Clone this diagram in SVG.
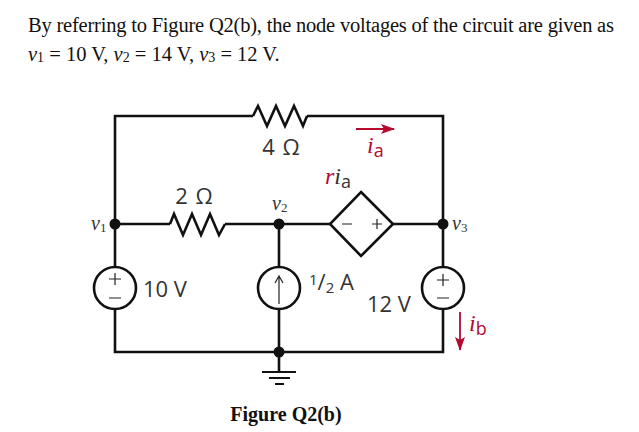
<svg xmlns="http://www.w3.org/2000/svg" width="639" height="432" viewBox="0 0 639 432">
<style>
.w{fill:none;stroke:#111;stroke-width:2.6;stroke-linejoin:miter}
.g{fill:none;stroke:#111;stroke-width:2}
.t{fill:none;stroke:#222;stroke-width:1.2}
.r{fill:none;stroke:#b5092e;stroke-width:1.8}
.q{font-family:"Liberation Serif",serif;font-size:20.500px;fill:#111}
.c{font-family:"Open Sans","DejaVu Sans",sans-serif;font-size:22px;fill:#333}
.v{font-family:"Liberation Serif",serif;font-style:italic;font-size:20px;fill:#333}
.s{font-family:"Liberation Serif",serif;font-style:normal;font-size:13px;fill:#333}
.ri{font-family:"Liberation Serif",serif;font-style:italic;font-size:24px}
.sub{font-family:"Open Sans",sans-serif;font-style:normal;font-size:18px}
</style>
<defs>
<marker id="ah" markerUnits="userSpaceOnUse" markerWidth="14" markerHeight="12" refX="13" refY="5" orient="auto"><path d="M0 0L14 5L0 10L3 5Z" fill="#b5092e"/></marker>
</defs>
<rect width="639" height="432" fill="#fff"/>
<g id="question">
<text class="q" x="28" y="32" textLength="586" lengthAdjust="spacing">By referring to Figure Q2(b), the node voltages of the circuit are given as</text>
<text class="q" x="28" y="61"><tspan font-style="italic">v</tspan><tspan font-size="14" dy="1">1</tspan><tspan dy="-1"> = 10 V, </tspan><tspan font-style="italic">v</tspan><tspan font-size="14" dy="1">2</tspan><tspan dy="-1"> = 14 V, </tspan><tspan font-style="italic">v</tspan><tspan font-size="14" dy="1">3</tspan><tspan dy="-1"> = 12 V.</tspan></text>
</g>
<g id="connectors">
<path class="w" d="M253 116H115V267M115 309V352H443V309M443 267V116H307M115 224H170M225 224H330M393 224H443M279 224V267M279 309V372"/>
</g>
<g id="r4"><path class="w" d="M253 116L258 106L267 126L276 106L285 126L294 106L303 126L307 116"/>
<text class="c" x="281" y="155" text-anchor="middle" word-spacing="2">4 Ω</text></g>
<g id="r2"><path class="w" d="M170 224L174 214L183 235L192 214L201 235L210 214L219 235L225 224"/>
<text class="c" x="194" y="204" text-anchor="middle" word-spacing="2">2 Ω</text></g>
<g id="n1"><circle cx="115" cy="224" r="5.500" fill="#111"/><text class="v" x="91" y="230">v<tspan class="s" dy="2">1</tspan></text></g>
<g id="n2"><circle cx="279" cy="224" r="5.500" fill="#111"/><text class="v" x="272" y="210">v<tspan class="s" dy="2">2</tspan></text></g>
<g id="n3"><circle cx="443" cy="224" r="5.500" fill="#111"/><text class="v" x="452" y="230">v<tspan class="s" dy="2">3</tspan></text></g>
<g id="n4"><circle cx="279" cy="352" r="5.500" fill="#111"/></g>
<g id="dep"><path class="w" d="M361 192L393 224L361 256L330 224Z"/><path class="t" d="M342 224H352M372 224H382M377 219V229"/>
<text class="ri" x="325" y="184" fill="#b5092e">r<tspan fill="#333">i</tspan><tspan class="sub" fill="#333" dy="4">a</tspan></text></g>
<g id="ia"><path class="r" d="M356 129H394" marker-end="url(#ah)"/><text x="367" y="153" class="ri" fill="#b5092e">i<tspan class="sub" dy="4">a</tspan></text></g>
<g id="vs10"><circle class="w" cx="115" cy="288" r="21"/><path class="t" d="M109 279H121M115 273V285M109 298H121"/><text class="c" x="143" y="297">10 V</text></g>
<g id="cs"><circle class="w" cx="279" cy="288" r="21"/><path class="t" d="M279 304V276M275 283L279 276L283 283"/>
<text class="c" x="309" y="290"><tspan font-size="15" dy="-5">1</tspan><tspan dy="5">/</tspan><tspan font-size="15" dy="3">2</tspan><tspan dy="-3"> A</tspan></text></g>
<g id="vs12"><circle class="w" cx="443" cy="288" r="21"/><path class="t" d="M437 280H449M443 274V286M437 298H449"/><text class="c" x="367" y="312">12 V</text></g>
<g id="ib"><path class="r" d="M460 312V350" marker-end="url(#ah)"/><text x="469" y="331" class="ri" fill="#b5092e">i<tspan class="sub" dy="4">b</tspan></text></g>
<g id="ground"><path class="g" d="M262 372H296M269 378H290M275 384H284"/></g>
<text id="caption" x="286" y="421" text-anchor="middle" font-family="Liberation Serif,serif" font-weight="bold" font-size="20" fill="#111">Figure Q2(b)</text>
</svg>
